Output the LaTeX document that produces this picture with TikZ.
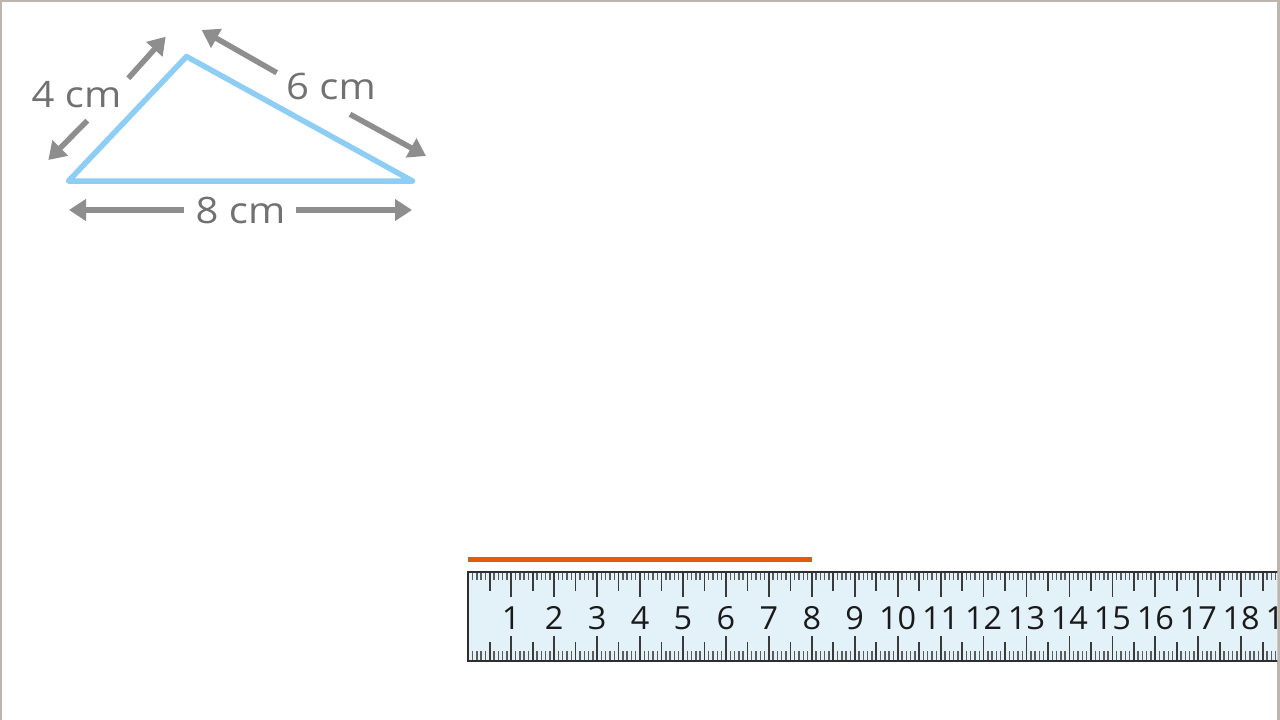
\documentclass[tikz,border=0pt]{standalone}
\usepackage{fontspec}
\setmainfont{Open Sans}[FakeStretch=1.1]
\newfontfamily\rulerfont{Open Sans}[FakeStretch=1.02]
\usetikzlibrary{arrows.meta}
\definecolor{triblue}{HTML}{8ECDF4}
\definecolor{dimgray}{HTML}{8E8E8E}
\definecolor{labgray}{HTML}{717171}
\definecolor{rulerfill}{HTML}{E3F1F9}
\definecolor{rulerline}{HTML}{2E2E2E}
\definecolor{tickdark}{HTML}{3A3A3A}
\definecolor{ticklight}{HTML}{5C5C5C}
\definecolor{numcol}{HTML}{1A1A1A}
\definecolor{orangebar}{HTML}{E25A0C}
\definecolor{framegray}{HTML}{BDB6AF}
\tikzset{
  dimline/.style={draw=dimgray, line width=5.5pt},
  dimtip/.style={dimline, -{Triangle[length=17pt,width=21pt]}},
  dimlabel/.style={text=labgray, font=\fontsize{36.4}{40}\selectfont, inner sep=0pt, text height=26pt, text depth=0pt, anchor=center},
  tri/.style={draw=triblue, line width=5.5pt, line join=round, line cap=round},
  cmtick/.style={draw=tickdark, line width=1.8pt},
  halftick/.style={draw=tickdark, line width=1.6pt},
  mmtick/.style={draw=ticklight, line width=1.4pt},
  rulernum/.style={text=numcol, font=\rulerfont\fontsize{31.8}{36}\selectfont, inner sep=0pt, text height=22.7pt, text depth=0pt, anchor=center},
  bar/.style={draw=orangebar, line width=5pt},
  frameline/.style={draw=framegray, line width=2.5pt}
}
\begin{document}
\begin{tikzpicture}[x=1pt,y=-1pt]
\useasboundingbox (0,0) rectangle (1280,720);
\fill[white] (0,0) rectangle (1280,720);
\draw[frameline] (1.2,720) -- (1.2,1.2) -- (1278.6,1.2) -- (1278.6,720);

% triangle
\coordinate (A) at (68.5,181);
\coordinate (B) at (186.5,56.5);
\coordinate (C) at (412.5,181);
\draw[tri] (A) -- (B) -- (C) -- cycle;

% 8 cm
\coordinate (b1) at (69,210);
\coordinate (b2) at (184,210);
\coordinate (b3) at (296,210);
\coordinate (b4) at (412,210);
\node[dimlabel] (l8) at (240.5,210) {8 cm};
\draw[dimtip] (b2) -- (b1);
\draw[dimtip] (b3) -- (b4);

% 4 cm
\coordinate (f1) at (48.3,160);
\coordinate (f2) at (87.3,120.7);
\coordinate (f3) at (128.3,78.3);
\coordinate (f4) at (165.7,36.7);
\node[dimlabel] (l4) at (76.5,94) {4 cm};
\draw[dimtip] (f2) -- (f1);
\draw[dimtip] (f3) -- (f4);

% 6 cm
\coordinate (s1) at (201.7,30);
\coordinate (s2) at (276.7,72.7);
\coordinate (s3) at (350,114.3);
\coordinate (s4) at (426,156);
\node[dimlabel] (l6) at (331,86) {6 cm};
\draw[dimtip] (s2) -- (s1);
\draw[dimtip] (s3) -- (s4);

% orange bar
\coordinate (o1) at (468.3,559);
\coordinate (o2) at (811.8,559);
\draw[bar] (o1) -- (o2);

% ruler
\begin{scope}
\clip (0,0) rectangle (1277.3,720);
\fill[rulerfill] (468.3,571.7) rectangle (1300,661);
\foreach \i in {1,...,195}{
  \pgfmathsetmacro\xx{468.3+\i*4.294}
  \pgfmathtruncatemacro\mten{mod(\i,10)}
  \pgfmathtruncatemacro\mfive{mod(\i,5)}
  \ifnum\mten=0
    \draw[cmtick] (\xx,571.7) -- ++(0,25);
    \draw[cmtick] (\xx,661) -- ++(0,-25);
  \else\ifnum\mfive=0
    \draw[halftick] (\xx,571.7) -- ++(0,19);
    \draw[halftick] (\xx,661) -- ++(0,-19);
  \else
    \draw[mmtick] (\xx,571.7) -- ++(0,8);
    \draw[mmtick] (\xx,661) -- ++(0,-10);
  \fi\fi
}
\foreach \n in {1,...,19}{
  \node[rulernum] (n\n) at ({468.3+\n*42.94},618) {\n};
}
\draw[rulerline, line width=2.2pt] (1300,571.7) -- (468.3,571.7) -- (468.3,661) -- (1300,661);
\end{scope}
\end{tikzpicture}
\end{document}
